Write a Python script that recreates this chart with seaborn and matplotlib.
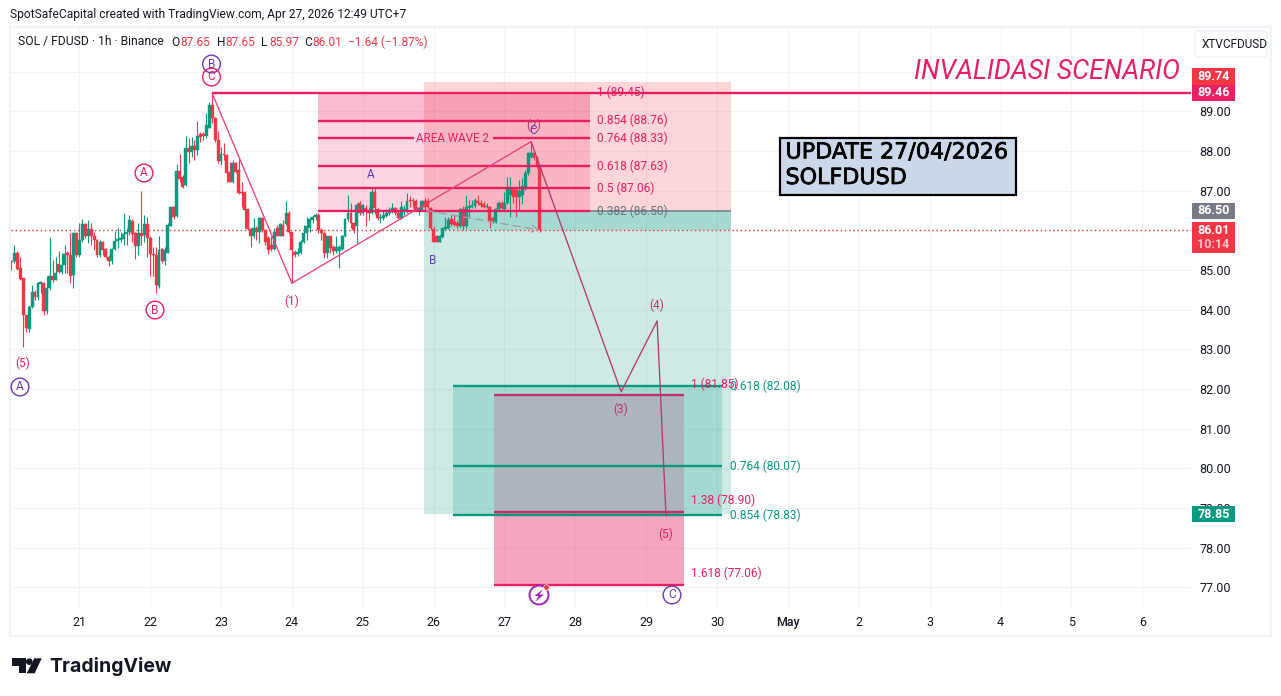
import matplotlib

matplotlib.use("Agg")
import matplotlib.pyplot as plt
import matplotlib.patheffects as pe
import matplotlib.transforms as mtransforms
from matplotlib.patches import Circle, FancyBboxPatch, Polygon, Rectangle
import pandas as pd
import seaborn as sns

RED = "#f23645"
GREEN = "#089981"
PINK = "#e91e63"
PURPLE = "#673ab7"
INK = "#131722"
GRID = "#f2f3f5"
FRAME = "#f0f3fa"

# hourly candles, hour 0 is Apr 21 00:00
hours = list(range(-23, 157))
opens = [
    85.22, 85.22, 85.43, 85.05, 84.80, 83.86, 83.52, 84.08, 84.44, 84.31,
    84.65, 84.67, 83.96, 84.55, 84.84, 84.75, 85.16, 84.94, 85.12, 85.43,
    85.38, 84.88, 85.93, 85.37, 85.76, 86.16, 85.85, 86.03, 85.85, 85.76,
    85.37, 85.72, 85.53, 85.34, 85.23, 85.53, 85.74, 85.76, 85.79, 85.91,
    85.96, 86.24, 85.93, 85.62, 85.93, 85.89, 86.16, 85.81, 85.41, 85.38,
    84.59, 85.53, 85.22, 85.44, 86.12, 86.58, 86.37, 87.50, 87.36, 87.15,
    88.07, 87.99, 88.13, 88.03, 88.43, 88.42, 88.37, 88.58, 89.16, 88.83,
    88.28, 87.74, 87.92, 87.90, 87.48, 87.21, 87.69, 87.53, 86.98, 86.96,
    86.53, 86.03, 85.85, 86.06, 85.97, 86.31, 86.01, 85.80, 85.64, 85.53,
    86.07, 85.87, 86.14, 86.16, 86.45, 85.96, 85.45, 85.40, 85.43, 85.70,
    85.93, 86.07, 86.27, 86.33, 86.39, 86.01, 85.93, 85.44, 85.85, 85.59,
    85.47, 85.47, 85.53, 85.85, 86.28, 86.43, 86.20, 86.12, 86.69, 86.43,
    86.56, 86.50, 86.43, 86.98, 86.54, 86.31, 86.32, 86.37, 86.43, 86.50,
    86.56, 86.45, 86.32, 86.48, 86.48, 86.75, 86.75, 86.75, 86.52, 86.52,
    86.74, 86.75, 86.56, 86.04, 85.85, 85.72, 85.83, 86.04, 86.06, 86.28,
    86.22, 86.18, 86.10, 86.53, 86.11, 86.56, 86.60, 86.62, 86.75, 86.70,
    86.67, 86.58, 86.60, 86.31, 86.22, 86.53, 86.70, 86.53, 86.70, 86.90,
    87.06, 87.02, 86.85, 86.90, 87.06, 87.44, 87.84, 87.95, 87.86, 87.65,
]
highs = [
    85.26, 85.64, 85.47, 85.34, 84.80, 83.87, 84.12, 84.63, 84.50, 84.69,
    84.72, 84.69, 84.84, 85.83, 85.26, 85.34, 85.49, 85.43, 85.64, 85.47,
    85.93, 85.97, 85.97, 86.18, 86.28, 86.18, 86.26, 86.18, 85.97, 85.78,
    85.75, 85.74, 85.55, 85.38, 85.55, 85.99, 86.06, 85.95, 86.45, 86.06,
    86.39, 86.28, 85.97, 86.18, 87.00, 86.39, 86.35, 85.85, 85.59, 85.59,
    85.85, 85.55, 85.59, 86.20, 86.60, 86.62, 87.67, 87.92, 87.40, 88.38,
    88.32, 88.35, 88.28, 88.77, 88.49, 88.49, 88.95, 89.25, 89.46, 88.85,
    88.52, 88.11, 88.21, 87.92, 87.73, 87.78, 87.73, 87.82, 87.23, 86.98,
    86.55, 86.06, 86.32, 86.10, 86.35, 86.35, 86.03, 85.85, 85.85, 86.06,
    86.14, 86.18, 86.26, 86.74, 86.48, 85.97, 85.51, 85.55, 85.76, 86.14,
    86.35, 86.35, 86.39, 86.43, 86.43, 86.06, 85.97, 85.85, 85.86, 85.64,
    85.85, 85.64, 85.89, 86.31, 86.90, 86.69, 86.22, 86.69, 86.73, 86.67,
    86.64, 86.60, 87.07, 87.07, 86.56, 86.43, 86.48, 86.54, 86.60, 86.69,
    86.60, 86.52, 86.73, 86.64, 86.94, 86.87, 86.81, 86.79, 86.60, 86.77,
    86.81, 86.81, 86.60, 86.10, 85.89, 85.89, 85.89, 86.35, 86.35, 86.39,
    86.39, 86.27, 86.56, 86.62, 86.90, 86.77, 86.77, 86.81, 86.90, 86.77,
    86.73, 86.69, 86.62, 86.35, 86.56, 86.73, 86.73, 86.98, 87.34, 87.34,
    87.09, 87.06, 87.27, 87.32, 87.53, 87.99, 88.24, 87.97, 87.88, 87.65,
]
lows = [
    85.00, 85.17, 85.00, 84.75, 83.07, 83.45, 83.45, 84.04, 84.25, 84.25,
    84.42, 83.87, 83.90, 84.50, 84.71, 84.75, 84.92, 84.90, 84.92, 84.92,
    84.67, 84.54, 85.34, 85.34, 85.72, 85.80, 85.68, 85.64, 85.51, 85.34,
    85.34, 85.38, 85.30, 85.11, 85.16, 85.51, 85.55, 85.72, 85.64, 85.64,
    85.89, 85.72, 85.28, 85.38, 85.64, 85.72, 85.34, 84.85, 84.84, 84.43,
    84.55, 85.17, 85.13, 85.43, 86.10, 86.28, 86.35, 87.23, 87.06, 87.12,
    87.69, 87.86, 87.78, 87.90, 88.24, 88.28, 88.32, 88.58, 88.70, 88.24,
    87.71, 87.65, 87.78, 87.21, 87.21, 87.19, 87.44, 86.92, 86.60, 86.06,
    86.01, 85.59, 85.80, 85.76, 85.68, 85.97, 85.64, 85.40, 85.47, 85.51,
    85.85, 85.85, 85.85, 86.14, 85.93, 84.67, 85.34, 85.36, 85.41, 85.68,
    85.76, 85.97, 86.18, 86.27, 85.93, 85.76, 85.30, 85.30, 85.43, 85.38,
    85.43, 85.06, 85.51, 85.83, 86.25, 86.06, 85.93, 85.68, 86.39, 86.39,
    86.10, 86.27, 86.41, 86.41, 86.27, 86.18, 86.27, 86.33, 86.39, 86.43,
    86.39, 86.28, 86.28, 86.39, 86.43, 86.60, 86.60, 86.48, 86.39, 86.48,
    86.52, 86.56, 86.00, 85.70, 85.70, 85.70, 85.80, 86.01, 86.03, 86.10,
    86.10, 86.06, 86.06, 86.01, 86.06, 86.35, 86.56, 86.56, 86.64, 86.58,
    86.56, 86.56, 86.06, 86.18, 86.20, 86.50, 86.50, 86.50, 86.67, 86.35,
    86.69, 86.35, 86.50, 86.67, 87.02, 87.40, 87.82, 87.78, 87.57, 85.97,
]
closes = [
    85.21, 85.43, 85.03, 84.78, 83.86, 83.54, 84.08, 84.44, 84.32, 84.67,
    84.69, 83.96, 84.55, 84.84, 84.75, 84.92, 84.94, 85.12, 85.41, 85.37,
    84.86, 85.93, 85.37, 85.76, 86.16, 85.85, 86.03, 85.85, 85.76, 85.37,
    85.72, 85.51, 85.32, 85.22, 85.53, 85.74, 85.79, 85.82, 85.91, 85.96,
    86.27, 85.91, 85.62, 85.93, 85.87, 86.16, 85.80, 85.41, 85.38, 84.63,
    85.51, 85.22, 85.51, 86.14, 86.58, 86.35, 87.50, 87.30, 87.09, 88.07,
    87.99, 88.13, 88.03, 88.38, 88.35, 88.37, 88.66, 89.16, 88.83, 88.28,
    87.74, 87.92, 87.90, 87.46, 87.21, 87.69, 87.48, 86.94, 86.94, 86.52,
    86.03, 85.85, 86.06, 85.97, 86.31, 86.01, 85.72, 85.51, 85.53, 85.97,
    85.87, 86.16, 85.87, 86.43, 85.95, 85.51, 85.38, 85.45, 85.72, 85.93,
    86.10, 86.28, 86.35, 86.39, 86.01, 85.93, 85.44, 85.85, 85.55, 85.47,
    85.59, 85.59, 85.85, 86.29, 86.43, 86.18, 86.01, 86.64, 86.43, 86.63,
    86.48, 86.43, 86.98, 86.56, 86.31, 86.35, 86.39, 86.45, 86.52, 86.56,
    86.43, 86.32, 86.60, 86.54, 86.75, 86.74, 86.74, 86.52, 86.56, 86.74,
    86.60, 86.59, 86.05, 85.72, 85.72, 85.85, 86.06, 86.08, 86.27, 86.16,
    86.14, 86.11, 86.53, 86.11, 86.60, 86.62, 86.64, 86.77, 86.70, 86.64,
    86.60, 86.62, 86.22, 86.22, 86.53, 86.70, 86.56, 86.70, 87.06, 87.06,
    86.85, 86.85, 87.00, 87.11, 87.44, 87.96, 87.96, 87.82, 87.65, 86.01,
]

day_hours = [0, 24, 48, 72, 96, 120, 144, 168, 192, 216, 240, 264, 288, 312, 336, 360]
day_labels = ["21", "22", "23", "24", "25", "26", "27", "28", "29", "30", "May", "2", "3", "4", "5", "6"]
price_ticks = [77, 78, 79, 80, 81, 82, 83, 84, 85, 86, 87, 88, 89, 90]

# drawings
invalid_level = 89.46
area_levels = [89.46, 88.76, 88.33, 87.63, 87.06, 86.50]
area_names = ["1 (89.45)", "0.854 (88.76)", "0.764 (88.33)", "0.618 (87.63)", "0.5 (87.06)", "0.382 (86.50)"]
area_label_y = [92, 120, 138, 166, 188, 211]
area_span = [81, 173]

stop_span = [116.7, 220.8]
stop_top, entry, target = 89.74, 86.50, 78.85

green_levels = [82.08, 80.07, 78.83]
green_names = ["0.618 (82.08)", "0.764 (80.07)", "0.854 (78.83)"]
green_label_y = [386, 466, 515]
green_span = [126.6, 217.7]

ext_levels = [81.85, 78.90, 77.06]
ext_names = ["1 (81.85)", "1.38 (78.90)", "1.618 (77.06)"]
ext_label_y = [384, 500, 573]
ext_span = [140.5, 204.8]

wave_hours = [45, 72, 153]
wave_prices = [89.46, 84.67, 88.24]
plan_hours = [153, 183.5, 195.7, 198.7]
plan_prices = [88.24, 81.93, 83.72, 78.80]

df = pd.DataFrame({"hour": hours, "open": opens, "high": highs, "low": lows, "close": closes})
df["color"] = [GREEN if c >= o else RED for o, c in zip(df["open"], df["close"])]

sns.set_theme(style="whitegrid", rc={"grid.color": GRID, "grid.linewidth": 0.8})
plt.rcParams["font.family"] = ["Roboto", "DejaVu Sans"]

fig = plt.figure(figsize=(12.81, 6.96), dpi=100)
ax = fig.add_axes([10.5 / 1281, (696 - 608) / 696, (1191 - 10.5) / 1281, (608 - 27) / 696])

# screen pixels, y counted from the top like in the screenshot
pix = mtransforms.Affine2D().scale(1, -1).translate(0, 696)


def label(x, y, s, color=INK, size=8.6, ha="left", **kw):
    return ax.text(x, y, s, color=color, fontsize=size, ha=ha, va="center",
                   transform=pix, clip_on=False, zorder=kw.pop("zorder", 8), **kw)


def circled(x, y, s, color):
    ax.text(x, y, s, color=color, fontsize=8.5, ha="center", va="center", transform=pix, zorder=8,
            bbox=dict(boxstyle="circle,pad=0.2", fc="none", ec=color, lw=1))


def tag(top, bottom, s, color):
    ax.add_patch(Rectangle((1192, top), 43, bottom - top, fc=color, ec="none",
                           transform=pix, clip_on=False, zorder=10))
    label(1213.5, (top + bottom) / 2, s, color="white", size=9, ha="center", weight="bold", zorder=11)


# fills
for i in range(len(area_levels) - 1):
    ax.fill_between(area_span, area_levels[i + 1], area_levels[i], color=PINK,
                    alpha=0.3 if i == 0 else 0.18, lw=0, zorder=1)
ax.fill_between(stop_span, entry, stop_top, color=RED, alpha=0.2, lw=0, zorder=1.1)
ax.fill_between(stop_span, target, entry, color=GREEN, alpha=0.2, lw=0, zorder=1.1)
ax.fill_between(stop_span, closes[-1], entry, color=GREEN, alpha=0.2, lw=0, zorder=1.1)
ax.fill_between(green_span, green_levels[2], green_levels[0], color=GREEN, alpha=0.2, lw=0, zorder=1.2)
ax.fill_between(ext_span, ext_levels[1], ext_levels[0], color="#aeb3b9", alpha=0.92, lw=0, zorder=1.3)
ax.fill_between(ext_span, ext_levels[2], ext_levels[1], color=PINK, alpha=0.4, lw=0, zorder=1.3)

# candles
ax.vlines(df["hour"], df["low"], df["high"], colors=df["color"], lw=0.8, zorder=3)
ax.bar(df["hour"], (df["close"] - df["open"]).abs().clip(lower=0.02),
       bottom=df[["open", "close"]].min(axis=1), width=0.98, color=df["color"],
       edgecolor=df["color"], lw=0.3, zorder=3)

# level lines
ax.axhline(closes[-1], color=RED, lw=1, ls=(0, (1, 2)), zorder=2)
ax.hlines(invalid_level, wave_hours[0], 376.5, color=PINK, lw=1.7, zorder=4)
for lvl in area_levels[1:]:
    if lvl == area_levels[2]:
        ax.hlines(lvl, area_span[0], 113.5, color=PINK, lw=1.7, zorder=4)
        ax.hlines(lvl, 140, area_span[1], color=PINK, lw=1.7, zorder=4)
    else:
        ax.hlines(lvl, area_span[0], area_span[1], color=PINK, lw=1.7, zorder=4)
ax.hlines(entry, area_span[1], stop_span[1], color="#78808a", lw=1.2, zorder=4)
ax.hlines(green_levels, green_span[0], green_span[1], color=GREEN, lw=1.7, zorder=4)
ax.hlines(ext_levels[:2], ext_span[0], ext_span[1], color="#c2306b", lw=1.7, zorder=4.1)
ax.hlines(ext_levels[2], ext_span[0], ext_span[1], color=PINK, lw=1.7, zorder=4.1)

# waves
sns.lineplot(x=wave_hours, y=wave_prices, sort=False, estimator=None, color="#ee3f78", lw=0.95, ax=ax, zorder=5)
sns.lineplot(x=plan_hours, y=plan_prices, sort=False, estimator=None, color="#b8386f", lw=0.95, ax=ax, zorder=5)
ax.annotate("", xy=(156, 86.01), xytext=(117.7, 86.50), zorder=5,
            arrowprops=dict(arrowstyle="->", ls=(0, (5, 4)), color="#9aa0a6", lw=1, shrinkA=0, shrinkB=0))

ax.set_xlim(-23.3, 376.5)
ax.set_ylim(76.48, 91.13)
ax.set_xticks(day_hours, day_labels)
ax.set_yticks(price_ticks, [f"{p:.2f}" for p in price_ticks])
ax.yaxis.tick_right()
ax.tick_params(axis="both", length=0, labelcolor=INK, labelsize=9)
ax.tick_params(axis="x", pad=5.5)
ax.tick_params(axis="y", pad=6)
for t in ax.get_xticklabels():
    if t.get_text() == "May":
        t.set_fontweight("medium")
ax.set_xlabel("")
ax.set_ylabel("")
for s in ax.spines.values():
    s.set_visible(False)
ax.add_patch(Rectangle((9.5, 26.5), 1261, 609, fill=False, ec=FRAME, lw=1.6, transform=pix, clip_on=False, zorder=0))

# wave labels
circled(211.5, 64, "B", PURPLE)
circled(211.5, 77, "C", PINK)
circled(144, 173, "A", PINK)
circled(155, 310, "B", PINK)
circled(20, 387, "A", PURPLE)
circled(672, 595, "C", PURPLE)
for x, y, s, c in [(23, 363, "(5)", PINK), (291.5, 301, "(1)", PINK), (534, 125, "(2)", "#c2306b"),
                   (621, 409, "(3)", "#c2306b"), (657, 305, "(4)", "#b8386f"), (666, 534, "(5)", PINK),
                   (371, 174, "A", PURPLE), (433, 261, "B", PURPLE), (533, 130, "C", PURPLE)]:
    label(x, y, s, color=c, size=8.5, ha="center")

# fib labels
for s, y in zip(area_names, area_label_y):
    label(597, y, s, color="#66707a" if s.startswith("0.382") else PINK)
for s, y in zip(green_names, green_label_y):
    label(730, y, s, color=GREEN)
for s, y in zip(ext_names, ext_label_y):
    label(691, y, s, color=PINK)
label(453, 138, "AREA WAVE 2", color=PINK, ha="center", size=8.4)

label(914, 72, "INVALIDASI SCENARIO", color=PINK, size=19.3, style="italic")
ax.add_patch(Rectangle((780, 137.5), 236, 57, fc="#ccd8ea", ec="black", lw=1.6, transform=pix, clip_on=False, zorder=8))
for y, s in [(152.5, "UPDATE 27/04/2026"), (178, "SOLFDUSD")]:
    txt = label(785.5, y, s, color="black", size=16, family="DejaVu Sans", zorder=9)
    txt.set_path_effects([pe.withStroke(linewidth=0.5, foreground="black")])

# price scale
tag(68, 85, "89.74", RED)
tag(85, 101, "89.46", PINK)
tag(203, 219, "86.50", "#787b86")
ax.add_patch(Rectangle((1192, 222), 43, 31, fc=RED, ec="none", transform=pix, clip_on=False, zorder=10))
label(1213.5, 230.5, "86.01", color="white", size=9, ha="center", weight="bold", zorder=11)
label(1213.5, 244.5, "10:14", color="#fbc5ca", size=9, ha="center", weight="bold", zorder=11)
tag(506, 522, "78.85", GREEN)
ax.add_patch(FancyBboxPatch((1198, 34), 66, 20, boxstyle="round,pad=3,rounding_size=4", fc="white", ec=FRAME,
                            lw=1.2, transform=pix, clip_on=False, zorder=9))
label(1235, 44.5, "XTVCFDUSD", size=8.5, ha="center", zorder=10)

# header
label(10, 14.5, "SpotSafeCapital created with TradingView.com, Apr 27, 2026 12:49 UTC+7", size=8.65)
label(18, 42, "SOL / FDUSD · 1h · Binance", size=8.7)
for x, s, c in [(171.5, "O", INK), (180, "87.65", RED), (216.5, "H", INK), (225, "87.65", RED), (261.5, "L", INK),
                (269, "85.97", RED), (304, "C", INK), (312, "86.01", RED), (348, "−1.64 (−1.87%)", RED)]:
    label(x, 42, s, color=c, size=8.6)

# lightning badge
ax.add_patch(Circle((539, 595), 9.5, fill=False, ec="#9c27b0", lw=1.4, transform=pix, clip_on=False, zorder=8))
ax.add_patch(Polygon([(543, 589), (534.5, 596), (538.5, 596), (535.5, 601.5), (544, 594.5), (539.5, 594.5)],
                     fc="#9c27b0", ec="none", transform=pix, clip_on=False, zorder=8))
ax.add_patch(Circle((546.5, 587.5), 2.8, fc=RED, ec="white", lw=0.5, transform=pix, clip_on=False, zorder=9))

# footer logo
logo = "#131722"
ax.add_patch(Polygon([(12, 658.3), (26, 658.3), (26, 673.3), (19, 673.3), (19, 665.7), (12, 665.7)],
                     fc=logo, ec="none", transform=pix, clip_on=False))
ax.add_patch(Circle((29.3, 661.7), 3.3, fc=logo, ec="none", transform=pix, clip_on=False))
ax.add_patch(Polygon([(34.3, 658.3), (41.7, 658.3), (34.7, 673.3), (26.7, 673.3)],
                     fc=logo, ec="none", transform=pix, clip_on=False))
label(49.5, 666, "TradingView", color=logo, size=14, family="Inter", weight="bold")

fig.savefig("out.png", dpi=100)
